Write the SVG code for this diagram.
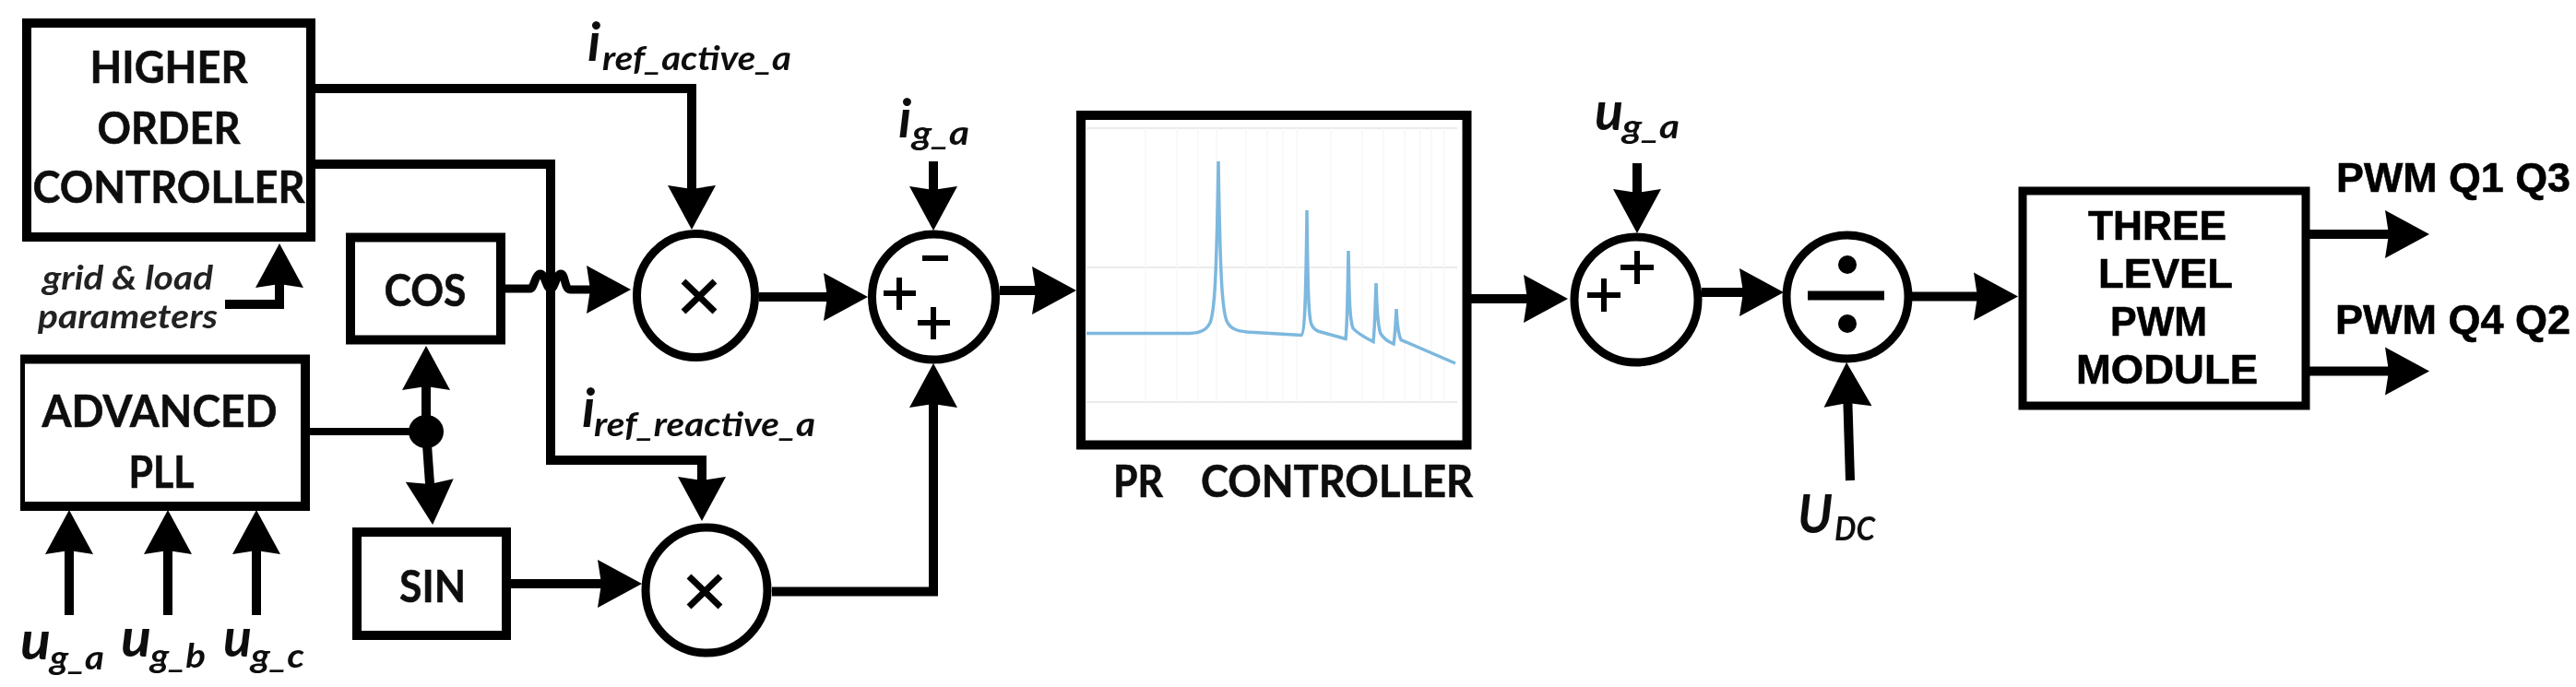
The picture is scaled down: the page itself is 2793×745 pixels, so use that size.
<svg xmlns="http://www.w3.org/2000/svg" width="2793" height="745" viewBox="0 0 2793 745">
<style>
.box{fill:#fff;stroke:#000;stroke-width:10}
.sum{fill:#fff;stroke:#000;stroke-width:9}
.c{fill:none;stroke:#000;stroke-width:10}
.a{marker-end:url(#arr)}
.sign{fill:none;stroke:#000;stroke-width:6}
.t{font-family:Lato,"Open Sans",sans-serif;font-weight:700;font-size:47px;fill:#111;text-anchor:middle;stroke:#111;stroke-width:0.6px}
.p{font-family:"Liberation Sans",Arial,sans-serif;font-weight:700;font-size:44px;fill:#000;stroke:#000;stroke-width:0.6px}
.m{font-family:Lato,"Open Sans",sans-serif;font-weight:700;font-style:italic;font-size:58px;fill:#111}
.s{font-family:Lato,"Open Sans",sans-serif;font-weight:700;font-style:italic;font-size:37px;fill:#111}
.g{font-family:Lato,"Open Sans",sans-serif;font-weight:700;font-style:italic;font-size:36px;fill:#222}
</style>
<defs>
<marker id="arr" markerUnits="userSpaceOnUse" markerWidth="52" markerHeight="56" viewBox="0 0 52 56" refX="20" refY="28" orient="auto"><path d="M2,2 L50,28 L2,54 L6,28 Z" fill="#000"/></marker>
<filter id="soft" x="0" y="0" width="100%" height="100%"><feGaussianBlur stdDeviation="0.7"/></filter>
</defs>
<rect width="2793" height="745" fill="#fff"/>
<g filter="url(#soft)">
<g id="connectors">
<path class="c a" d="M336,96 H750 V219"/>
<path class="c a" d="M336,178 H597 V499 H761 V535"/>
<path class="c a" style="stroke-width:9" d="M543,313 H575 C579,313 580,297 586,297 C591,297 592,313 597,313 C602,313 603,297 608,297 C613,297 612,314 618,314 H654"/>
<path class="c" style="stroke-width:8" d="M331,468 H462"/>
<path class="c a" d="M462,468 V405"/>
<path class="c a" d="M462,468 L467,539"/>
<path class="c a" d="M75,667 V583"/>
<path class="c a" d="M182,667 V583"/>
<path class="c a" d="M278,667 V583"/>
<path class="c a" d="M244,330 H303 V294"/>
<path class="c a" d="M549,633 H666"/>
<path class="c a" d="M823,322 H911"/>
<path class="c a" d="M837,641.500 H1012 V424"/>
<path class="c a" d="M1012,175 V220"/>
<path class="c a" d="M1084,315 H1137"/>
<path class="c a" d="M1590,324 H1670"/>
<path class="c a" d="M1775,177 V223"/>
<path class="c a" d="M1845,317 H1904"/>
<path class="c a" d="M2073,321.500 H2158"/>
<path class="c a" d="M2006,521 L2003,423"/>
<path class="c a" d="M2500,254 H2604"/>
<path class="c a" d="M2500,402.500 H2604"/>
</g>
<g id="node-higher-order"><rect class="box" x="29" y="25" width="308" height="232"/>
<text class="t" x="183" y="90" textLength="171" lengthAdjust="spacingAndGlyphs">HIGHER</text><text class="t" x="183" y="156" textLength="155" lengthAdjust="spacingAndGlyphs">ORDER</text><text class="t" x="183" y="220" textLength="295" lengthAdjust="spacingAndGlyphs">CONTROLLER</text></g>
<g id="node-cos"><rect class="box" x="380" y="257.500" width="163" height="111"/><text class="t" x="461" y="332" textLength="89" lengthAdjust="spacingAndGlyphs">COS</text></g>
<g id="node-sin"><rect class="box" x="387" y="577" width="162" height="112"/><text class="t" x="469" y="653" textLength="72" lengthAdjust="spacingAndGlyphs">SIN</text></g>
<g id="node-pll"><rect class="box" x="22" y="389.500" width="309" height="159.500"/>
<text class="t" x="173" y="463" textLength="255" lengthAdjust="spacingAndGlyphs">ADVANCED</text><text class="t" x="175" y="529" textLength="71" lengthAdjust="spacingAndGlyphs">PLL</text></g>
<g id="junction"><ellipse cx="462" cy="468" rx="19" ry="18" fill="#000"/></g>
<g id="node-mult1"><ellipse class="sum" cx="754.500" cy="320.500" rx="64" ry="67"/><path class="sign" style="stroke-width:7" d="M741,305 L775,338 M775,305 L741,338"/></g>
<g id="node-mult2"><ellipse class="sum" cx="766" cy="640" rx="66" ry="68"/><path class="sign" style="stroke-width:7" d="M747,625 L781,658 M781,625 L747,658"/></g>
<g id="node-sum1"><ellipse class="sum" cx="1012.500" cy="322" rx="67" ry="68"/><path class="sign" d="M1000,280 H1028 M958,318 H993 M975,301 V336 M995,350 H1030 M1012,333 V368"/></g>
<g id="node-pr"><rect class="box" x="1172" y="125" width="418.500" height="357.500"/>
<path d="M1178,139 H1580 M1178,290 H1580 M1178,436 H1580" fill="none" stroke="#ebebeb" stroke-width="2"/>
<path d="M1242,139 V436 M1276,139 V436 M1299,139 V436 M1319,139 V436 M1351,139 V436 M1374,139 V436 M1391,139 V436 M1406,139 V436 M1443,139 V436 M1477,139 V436 M1500,139 V436 M1523,139 V436 M1540,139 V436 M1552,139 V436 M1566,139 V436" fill="none" stroke="#f8f8f8" stroke-width="1.500"/>
<path d="M1178,361.500 H1290 C1302,361 1308,358 1312,350 C1317,338 1319,300 1321,175 C1323,300 1325,335 1330,348 C1334,357 1342,359 1352,360 L1411,363.500 C1415,362 1416,320 1417,228 C1418,320 1419,345 1422,352 C1424,357 1428,359 1432,360 L1459,367.500 C1461,350 1461,320 1462,272 C1463,320 1463,345 1467,356 C1472,362 1480,366 1489,370.600 C1491,350 1491,330 1492,307 C1493,330 1493,352 1497,362 C1501,368 1506,371 1511,373 C1513,360 1513,350 1514,335 C1515,350 1515,360 1519,368.600 L1578,394" fill="none" stroke="#7db8de" stroke-width="3.500"/>
<text class="t" x="1207" y="539" style="text-anchor:start" textLength="54" lengthAdjust="spacingAndGlyphs">PR</text><text class="t" x="1302" y="539" style="text-anchor:start" textLength="295" lengthAdjust="spacingAndGlyphs">CONTROLLER</text></g>
<g id="node-sum2"><ellipse class="sum" cx="1774" cy="325" rx="67" ry="68"/><path class="sign" d="M1757,290 H1793 M1775,272 V308 M1721,320 H1757 M1739,302 V338"/></g>
<g id="node-div"><ellipse class="sum" cx="2003" cy="322" rx="66" ry="67"/><path d="M1960,320.500 H2043" fill="none" stroke="#000" stroke-width="10"/><circle cx="2003" cy="287" r="10"/><circle cx="2003" cy="351" r="10"/></g>
<g id="node-pwm"><rect class="box" style="stroke-width:9" x="2193" y="207" width="307" height="233"/>
<text class="p" x="2264" y="260" textLength="150" lengthAdjust="spacingAndGlyphs">THREE</text><text class="p" x="2275" y="312" textLength="146" lengthAdjust="spacingAndGlyphs">LEVEL</text><text class="p" x="2288" y="364" textLength="105" lengthAdjust="spacingAndGlyphs">PWM</text><text class="p" x="2251" y="416" textLength="197" lengthAdjust="spacingAndGlyphs">MODULE</text></g>
<g id="labels">
<text class="p" x="2533" y="208" textLength="254" lengthAdjust="spacingAndGlyphs">PWM Q1 Q3</text>
<text class="p" x="2532" y="362" textLength="255" lengthAdjust="spacingAndGlyphs">PWM Q4 Q2</text>
<text class="g" x="46" y="314" textLength="185" lengthAdjust="spacingAndGlyphs">grid &amp; load</text>
<text class="g" x="41" y="356" textLength="195" lengthAdjust="spacingAndGlyphs">parameters</text>
<text class="m" x="637" y="66">i</text><text class="s" x="653" y="76" textLength="205" lengthAdjust="spacingAndGlyphs">ref_active_a</text>
<text class="m" x="631" y="463">i</text><text class="s" x="644" y="473" textLength="240" lengthAdjust="spacingAndGlyphs">ref_reactive_a</text>
<text class="m" x="974" y="149">i</text><text class="s" x="989" y="157" textLength="62" lengthAdjust="spacingAndGlyphs">g_a</text>
<text class="m" x="22" y="715" textLength="33" lengthAdjust="spacingAndGlyphs">u</text><text class="s" x="54" y="726" textLength="59" lengthAdjust="spacingAndGlyphs">g_a</text>
<text class="m" x="131" y="712" textLength="33" lengthAdjust="spacingAndGlyphs">u</text><text class="s" x="163" y="724" textLength="60" lengthAdjust="spacingAndGlyphs">g_b</text>
<text class="m" x="242" y="712" textLength="31" lengthAdjust="spacingAndGlyphs">u</text><text class="s" x="272" y="724" textLength="58" lengthAdjust="spacingAndGlyphs">g_c</text>
<text class="m" x="1729" y="141" textLength="31" lengthAdjust="spacingAndGlyphs">u</text><text class="s" x="1759" y="150" textLength="62" lengthAdjust="spacingAndGlyphs">g_a</text>
<text class="m" x="1949" y="578" textLength="38" lengthAdjust="spacingAndGlyphs">U</text><text class="s" x="1989" y="586" textLength="44" lengthAdjust="spacingAndGlyphs">DC</text>
</g>
</g>
</svg>
